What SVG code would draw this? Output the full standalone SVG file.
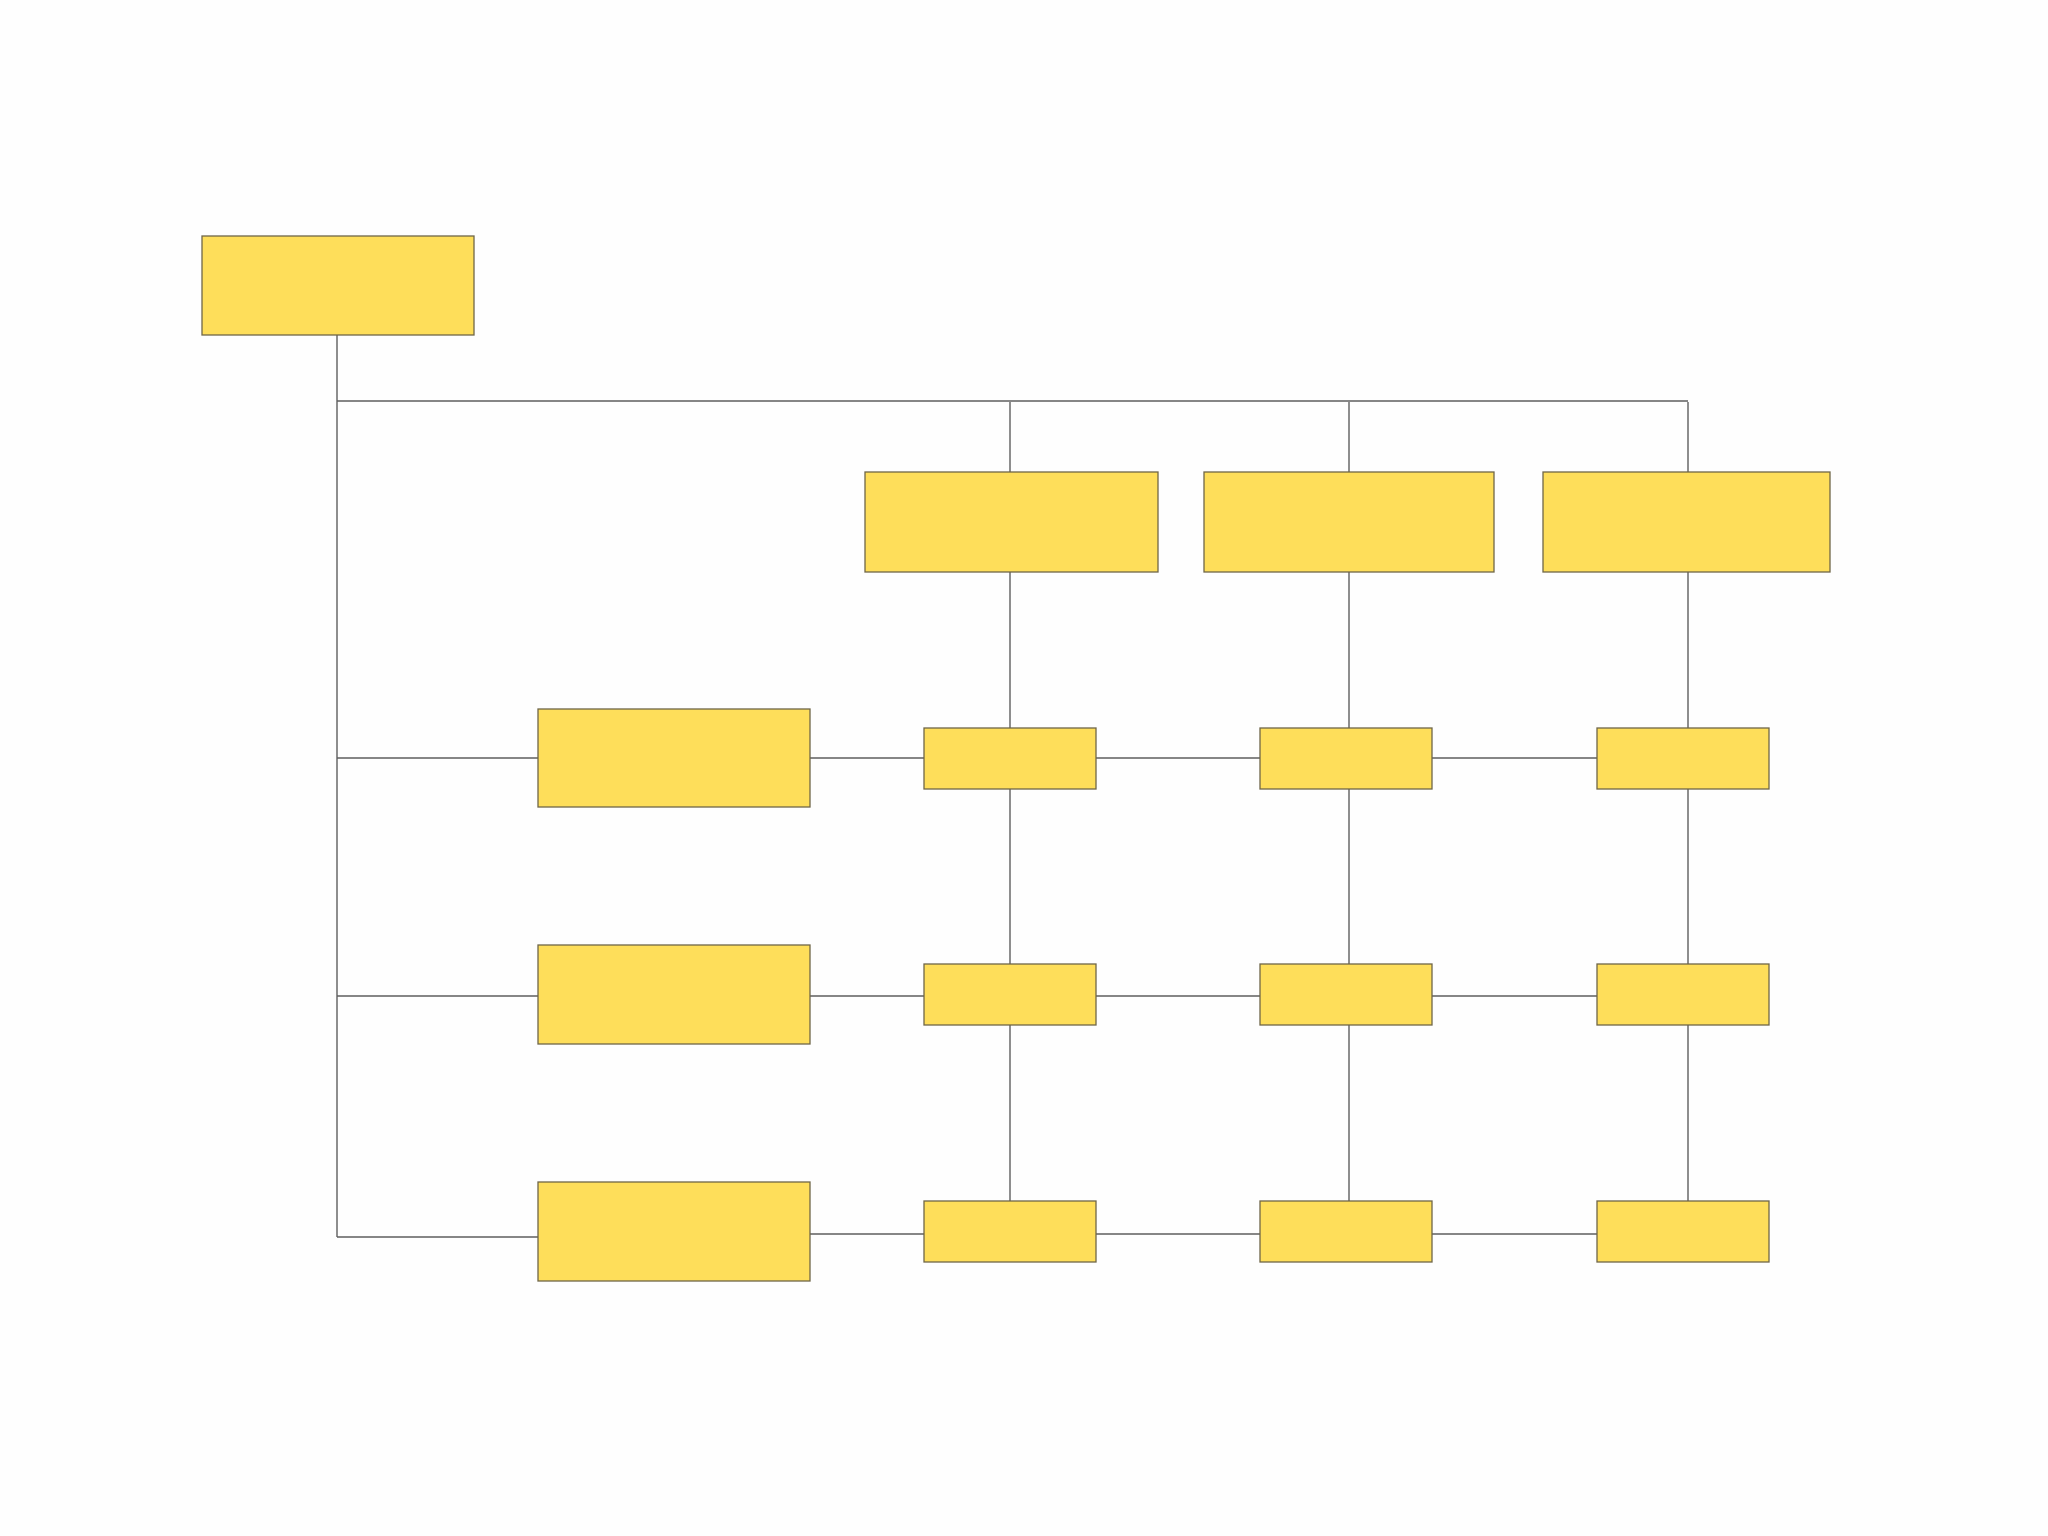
<svg xmlns="http://www.w3.org/2000/svg" width="2048" height="1536" viewBox="0 0 2048 1536">
  <style>
    .box { fill: #FEDE5A; stroke: #6f6648; stroke-width: 1.3; }
    .ln { stroke: #5f5f5f; stroke-width: 1.4; fill: none; }
  </style>
  <rect width="2048" height="1536" fill="#FEFEFE"/>
  <g id="connectors">
    <path class="ln" d="M337 335 V1237 M337 401 H1688 M1010 402 V472 M1349 402 V472 M1688 402 V472"/>
    <path class="ln" d="M1010 572 V728 M1010 789 V964 M1010 1025 V1201"/>
    <path class="ln" d="M1349 572 V728 M1349 789 V964 M1349 1025 V1201"/>
    <path class="ln" d="M1688 572 V728 M1688 789 V964 M1688 1025 V1201"/>
    <path class="ln" d="M337 758 H538 M810 758 H924 M1096 758 H1260 M1432 758 H1597"/>
    <path class="ln" d="M337 996 H538 M810 996 H924 M1096 996 H1260 M1432 996 H1597"/>
    <path class="ln" d="M337 1237 H538 M810 1234 H924 M1096 1234 H1260 M1432 1234 H1597"/>
  </g>
  <g id="root"><rect class="box" x="202" y="236" width="272" height="99"/></g>
  <g id="top1"><rect class="box" x="865" y="472" width="293" height="100"/></g>
  <g id="top2"><rect class="box" x="1204" y="472" width="290" height="100"/></g>
  <g id="top3"><rect class="box" x="1543" y="472" width="287" height="100"/></g>
  <g id="left1"><rect class="box" x="538" y="709" width="272" height="98"/></g>
  <g id="left2"><rect class="box" x="538" y="945" width="272" height="99"/></g>
  <g id="left3"><rect class="box" x="538" y="1182" width="272" height="99"/></g>
  <g id="c11"><rect class="box" x="924" y="728" width="172" height="61"/></g>
  <g id="c12"><rect class="box" x="1260" y="728" width="172" height="61"/></g>
  <g id="c13"><rect class="box" x="1597" y="728" width="172" height="61"/></g>
  <g id="c21"><rect class="box" x="924" y="964" width="172" height="61"/></g>
  <g id="c22"><rect class="box" x="1260" y="964" width="172" height="61"/></g>
  <g id="c23"><rect class="box" x="1597" y="964" width="172" height="61"/></g>
  <g id="c31"><rect class="box" x="924" y="1201" width="172" height="61"/></g>
  <g id="c32"><rect class="box" x="1260" y="1201" width="172" height="61"/></g>
  <g id="c33"><rect class="box" x="1597" y="1201" width="172" height="61"/></g>
</svg>
